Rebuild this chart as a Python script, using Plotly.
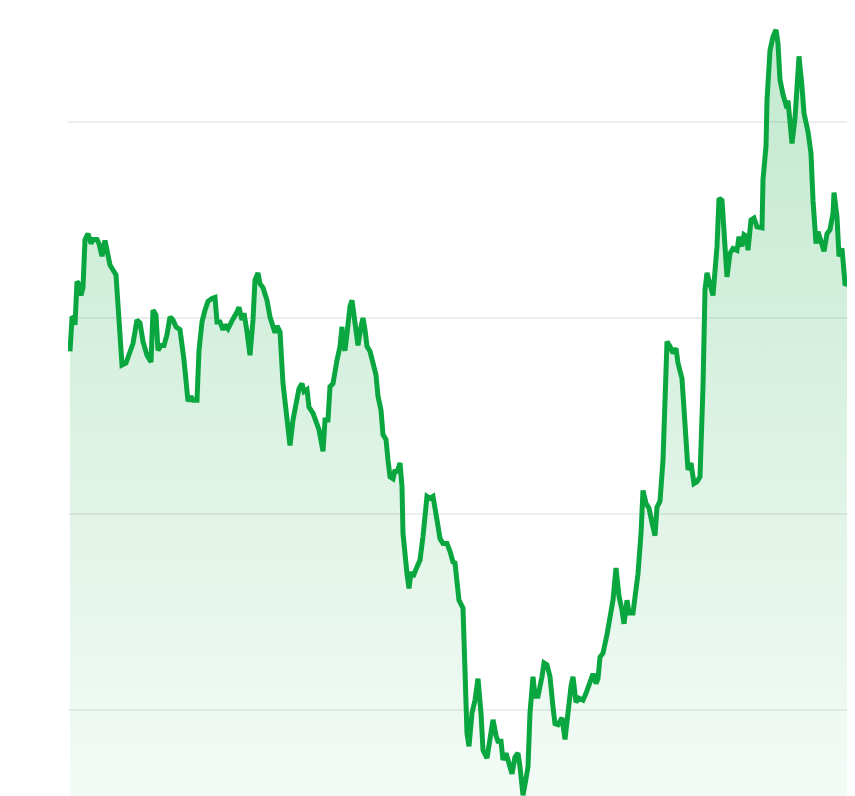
import plotly.graph_objects as go

# x positions (time index) and values
t = [0, 2, 4, 5, 7, 8, 11, 13, 15, 18, 21, 23, 27, 29, 32, 35, 37, 40, 43, 46,
     49, 52, 56, 60, 63, 67, 70, 73, 77, 81, 83, 86, 88, 91, 94, 97, 100, 103, 106, 110,
     114, 118, 121, 123, 127, 129, 132, 135, 138, 142, 145, 147, 150, 153, 155, 158, 161, 163, 167, 169,
     172, 174, 177, 180, 183, 185, 188, 190, 193, 197, 200, 203, 205, 207, 210, 213, 217, 220, 223, 226,
     229, 232, 234, 237, 239, 243, 246, 249, 253, 255, 258, 260, 263, 265, 267, 270, 272, 273, 275, 277,
     280, 282, 284, 287, 288, 291, 293, 295, 297, 300, 303, 306, 308, 311, 313, 316, 318, 320, 323, 325,
     327, 330, 332, 333, 337, 339, 341, 343, 347, 350, 353, 357, 360, 363, 367, 370, 373, 377, 380, 383,
     385, 387, 389, 393, 395, 397, 399, 402, 405, 408, 411, 413, 417, 420, 423, 426, 428, 431, 433, 436,
     439, 442, 445, 448, 450, 453, 456, 458, 460, 463, 465, 468, 472, 474, 477, 480, 483, 485, 488, 492,
     495, 498, 501, 503, 506, 509, 513, 516, 519, 523, 526, 528, 530, 533, 537, 540, 543, 546, 549, 552,
     554, 557, 559, 563, 566, 568, 571, 573, 576, 579, 582, 585, 587, 590, 593, 595, 597, 600, 603, 606,
     608, 612, 615, 618, 621, 624, 627, 630, 633, 635, 637, 641, 643, 647, 649, 652, 654, 657, 660, 663,
     667, 669, 672, 674, 677, 678, 681, 684, 687, 692, 693, 696, 697, 700, 703, 706, 708, 710, 713, 715,
     717, 718, 722, 725, 727, 729, 732, 734, 738, 741, 743, 746, 748, 752, 754, 757, 760, 763, 764, 767,
     769, 772, 775, 778]

values = [136.6, 140.0, 140.1, 139.3, 143.7, 143.6, 142.3, 143.1, 148.0, 148.6, 147.6, 148.0, 148.0, 147.6, 146.3, 147.9, 146.9, 145.4, 144.9, 144.4,
          139.8, 135.2, 135.4, 136.6, 137.4, 139.8, 139.5, 137.6, 136.2, 135.5, 140.8, 140.3, 136.7, 137.2, 137.2, 138.3, 140.1, 139.8, 139.1, 138.8,
          135.7, 131.5, 132.0, 131.6, 131.6, 136.7, 139.6, 140.8, 141.7, 142.0, 142.1, 139.6, 139.6, 138.8, 139.3, 138.9, 139.6, 139.9, 140.6, 141.1,
          139.8, 140.5, 138.6, 136.2, 139.8, 143.9, 144.6, 143.5, 143.1, 141.8, 140.1, 139.1, 138.5, 139.2, 138.6, 133.3, 129.3, 127.0, 129.6, 131.3,
          132.8, 133.3, 132.5, 132.7, 130.9, 130.3, 129.3, 128.6, 126.4, 129.6, 129.6, 133.0, 133.3, 135.0, 135.7, 137.1, 139.1, 137.1, 136.7, 138.4,
          141.2, 141.8, 140.1, 138.4, 137.2, 139.1, 140.0, 138.8, 137.1, 136.6, 135.4, 134.2, 132.0, 130.6, 128.1, 127.6, 125.5, 123.8, 123.6, 124.5,
          124.2, 125.2, 122.8, 118.0, 113.9, 112.4, 114.1, 113.6, 114.6, 115.3, 117.7, 121.8, 121.6, 121.8, 119.4, 117.5, 117.0, 117.0, 116.2, 115.1,
          115.0, 113.3, 111.2, 110.4, 104.4, 97.6, 96.3, 99.7, 101.0, 103.2, 99.7, 95.9, 95.1, 96.9, 99.0, 97.4, 96.8, 96.8, 94.9, 95.6,
          94.6, 93.5, 95.2, 95.6, 94.2, 91.3, 93.0, 94.2, 99.7, 103.4, 101.4, 101.4, 103.4, 104.8, 104.6, 103.4, 100.3, 98.6, 98.5, 99.2,
          97.0, 100.3, 102.4, 103.4, 100.8, 101.2, 101.0, 101.7, 102.7, 103.7, 102.7, 103.2, 105.4, 105.8, 107.7, 109.2, 111.2, 114.5, 111.6, 110.2,
          108.8, 111.2, 109.9, 109.9, 112.2, 113.9, 118.0, 122.4, 121.1, 120.6, 119.1, 117.8, 120.7, 121.3, 125.5, 131.3, 137.6, 137.1, 136.4, 136.9,
          135.4, 133.8, 129.3, 124.5, 125.2, 123.1, 123.3, 123.8, 133.0, 142.9, 144.6, 142.9, 142.3, 147.3, 152.2, 152.0, 148.6, 144.2, 146.6, 147.1,
          146.9, 148.3, 147.3, 148.5, 148.3, 146.9, 150.0, 150.2, 149.3, 149.2, 154.1, 157.5, 162.2, 167.3, 168.7, 169.4, 168.0, 164.3, 162.8, 161.9,
          161.4, 162.2, 157.8, 160.4, 163.3, 166.7, 163.6, 160.9, 159.0, 156.8, 152.0, 147.6, 148.8, 147.4, 146.8, 148.6, 149.0, 150.7, 152.8, 150.3,
          146.3, 147.1, 143.5, 143.4]

grid_values = [100, 120, 140, 160]

# the page body adds an 8px offset; ranges/margins compensate for it
y_min, y_max = 90.41, 171.63

fig = go.Figure()
fig.add_trace(go.Scatter(
    x=t, y=values, mode="lines",
    line=dict(color="#0aa640", width=5),
    fill="tozeroy",
    fillgradient=dict(
        type="vertical",
        start=91.2, stop=172.4,
        colorscale=[[0, "rgba(20,170,70,0.05)"], [1, "rgba(20,170,70,0.27)"]],
    ),
    hoverinfo="skip",
))

fig.update_layout(
    width=855, height=796,
    margin=dict(l=60, r=12, t=0, b=0),
    paper_bgcolor="white", plot_bgcolor="white",
    showlegend=False,
    xaxis=dict(range=[-2, 781], showgrid=False, zeroline=False, showline=False,
               showticklabels=False, ticks=""),
    yaxis=dict(range=[y_min, y_max], tickmode="array", tickvals=grid_values,
               showgrid=True, gridcolor="#eeeeee", gridwidth=2,
               zeroline=False, showline=False, showticklabels=False, ticks=""),
)

fig.write_html("out.html")
